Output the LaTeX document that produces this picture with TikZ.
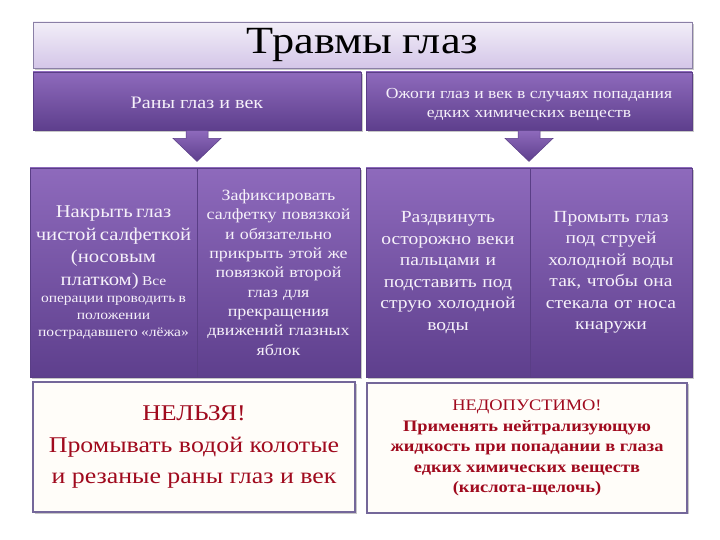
\documentclass[tikz,border=0pt]{standalone}
\usepackage{fontspec}
\setmainfont{Liberation Serif}[FakeStretch=1.15]
\definecolor{ptop}{HTML}{8E6ABC}
\definecolor{pbot}{HTML}{5E3F8D}
\definecolor{pbord}{HTML}{5A3E86}
\definecolor{ttop}{HTML}{F2EEF8}
\definecolor{tbot}{HTML}{D4C6E8}
\definecolor{tbord}{HTML}{8A7FA6}
\definecolor{wtxt}{HTML}{F6F1FA}
\definecolor{redtxt}{HTML}{A00A1E}
\definecolor{cream}{HTML}{FFFDF9}
\definecolor{bbord}{HTML}{74679A}
\begin{document}
\begin{tikzpicture}[x=1pt,y=-1pt,
  titlebox/.style={draw=tbord, line width=0.8pt, top color=ttop, bottom color=tbot, inner sep=0pt, font=\fontsize{38.5}{42}\selectfont},
  pbox/.style={draw=pbord, line width=0.8pt, top color=ptop, bottom color=pbot, text=wtxt, align=center, inner sep=1pt},
  ptext/.style={text=wtxt, align=center, inner sep=0pt},
  wbox/.style={draw=bbord, line width=1.6pt, fill=cream, text=redtxt, align=center, inner sep=2pt},
  shadowbox/.style={fill=black!22},
  darrow/.style={top color=ptop, bottom color=pbot, draw=pbord, line width=0.5pt}
]
\useasboundingbox[fill=white] (0,0) rectangle (720,540);
% title
\fill[shadowbox] (35,24) rectangle (694,70);
\node[titlebox, minimum width=659, minimum height=46] (title) at (362.5,45) {Травмы глаз};
% row 2
\fill[shadowbox] (35,74) rectangle (363,132);
\fill[shadowbox] (368,74) rectangle (694,132);
\node[pbox, minimum width=328, minimum height=58] (rl) at (197,101) {};
\node[ptext, yshift=-2pt, font=\fontsize{17.5}{21}\selectfont] (rltext) at (rl.center) {Раны глаз и век};
\node[pbox, minimum width=326, minimum height=58] (rr) at (529,101) {};
\node[ptext, yshift=-4pt, font=\fontsize{15.3}{19}\selectfont] (rrtext) at (rr.center) {Ожоги глаз и век в случаях попадания\\едких химических веществ};
% row 3
\fill[shadowbox] (32,170) rectangle (362,379);
\fill[shadowbox] (368,170) rectangle (694,379);
\node[pbox, minimum width=167, minimum height=209, text width=165] (c1) at (113.5,272.5)
 {{\fontsize{18}{22.7}\selectfont Накрыть глаз\\ чистой салфеткой\\ (носовым\\ платком) {\fontsize{13.5}{17}\selectfont Все}\par}
  {\fontsize{13.5}{17}\selectfont операции проводить в\\ положении\\ пострадавшего «лёжа»\par}};
\node[pbox, minimum width=163, minimum height=209, text width=161, font=\fontsize{15.6}{19.3}\selectfont] (c2) at (278.5,272.5)
 {Зафиксировать\\ салфетку повязкой\\ и обязательно\\ прикрыть этой же\\ повязкой второй\\ глаз для\\ прекращения\\ движений глазных\\ яблок};
\node[pbox, minimum width=164, minimum height=209, text width=162, font=\fontsize{17}{21.5}\selectfont] (c3) at (448,272.5)
 {Раздвинуть\\ осторожно веки\\ пальцами и\\ подставить под\\ струю холодной\\ воды};
\node[pbox, minimum width=162, minimum height=209, text width=160, font=\fontsize{17}{21.5}\selectfont] (c4) at (611,272.5)
 {Промыть глаз\\ под струей\\ холодной воды\\ так, чтобы она\\ стекала от носа\\ кнаружи};
% arrows
\path[darrow] (rl.south) ++(-11,0) -- ++(0,8) -- ++(-13,0) -- ++(24,23) coordinate (al) -- ++(24,-23) -- ++(-13,0) -- ++(0,-8) -- cycle;
\path[darrow] (rr.south) ++(-11,0) -- ++(0,8) -- ++(-13,0) -- ++(24,23) coordinate (ar) -- ++(24,-23) -- ++(-13,0) -- ++(0,-8) -- cycle;
% bottom
\fill[shadowbox] (35,384) rectangle (357,514);
\fill[shadowbox] (369,384) rectangle (689,514);
\node[wbox, minimum width=322, minimum height=130, font=\fontsize{22.5}{31.5}\selectfont] (nl) at (194,447)
 {НЕЛЬЗЯ!\\ Промывать водой колотые\\ и резаные раны глаз и век};
\node[wbox, minimum width=320, minimum height=130, font=\fontsize{16}{20.5}\selectfont] (nr) at (527,448)
 {НЕДОПУСТИМО!\\ \textbf{Применять нейтрализующую}\\ \textbf{жидкость при попадании в глаза}\\ \textbf{едких химических веществ}\\ \textbf{(кислота-щелочь)}};
\end{tikzpicture}
\end{document}
